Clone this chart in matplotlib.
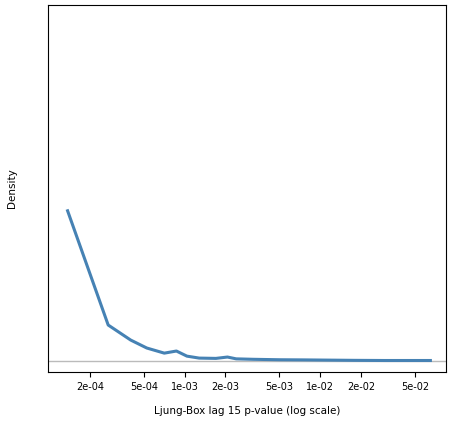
import matplotlib

matplotlib.use("Agg")
import matplotlib.pyplot as plt
from matplotlib.ticker import FixedLocator, NullLocator

# density curve (p-value, density)
p_values = [1.37e-4, 2.73e-4, 4.0e-4, 5.26e-4, 7.08e-4, 8.7e-4, 1.04e-3, 1.28e-3,
            1.7e-3, 2.07e-3, 2.4e-3, 3.2e-3, 5.0e-3, 7.6e-3, 1.0e-2, 1.8e-2, 3.0e-2, 6.5e-2]
density = [1.0, 0.24, 0.14, 0.087, 0.053, 0.067, 0.033, 0.02,
           0.018, 0.027, 0.015, 0.012, 0.009, 0.008, 0.007, 0.005, 0.004, 0.004]
tick_vals = [2e-4, 5e-4, 1e-3, 2e-3, 5e-3, 1e-2, 2e-2, 5e-2]
tick_labels = ["2e-04", "5e-04", "1e-03", "2e-03", "5e-03", "1e-02", "2e-02", "5e-02"]

fig = plt.figure(figsize=(4.74, 4.44), dpi=100)
ax = fig.add_axes([0.101, 0.162, 0.84, 0.827])
ax.axhline(0, color="#bbbbbb", linewidth=1)
ax.plot(p_values, density, color="#4682B4", linewidth=2.2)
ax.set_xscale("log")
ax.set_xlim(9.8e-5, 8.48e-2)
ax.set_ylim(-0.073, 2.37)
ax.xaxis.set_major_locator(FixedLocator(tick_vals))
ax.set_xticklabels(tick_labels, fontsize=7)
ax.xaxis.set_minor_locator(NullLocator())
ax.set_yticks([])
ax.set_xlabel("Ljung-Box lag 15 p-value (log scale)", fontsize=7.5, labelpad=10)
ax.set_ylabel("Density", fontsize=7.5, labelpad=22)
for s in ax.spines.values():
    s.set_linewidth(0.8)

fig.savefig("out.png", dpi=100)
